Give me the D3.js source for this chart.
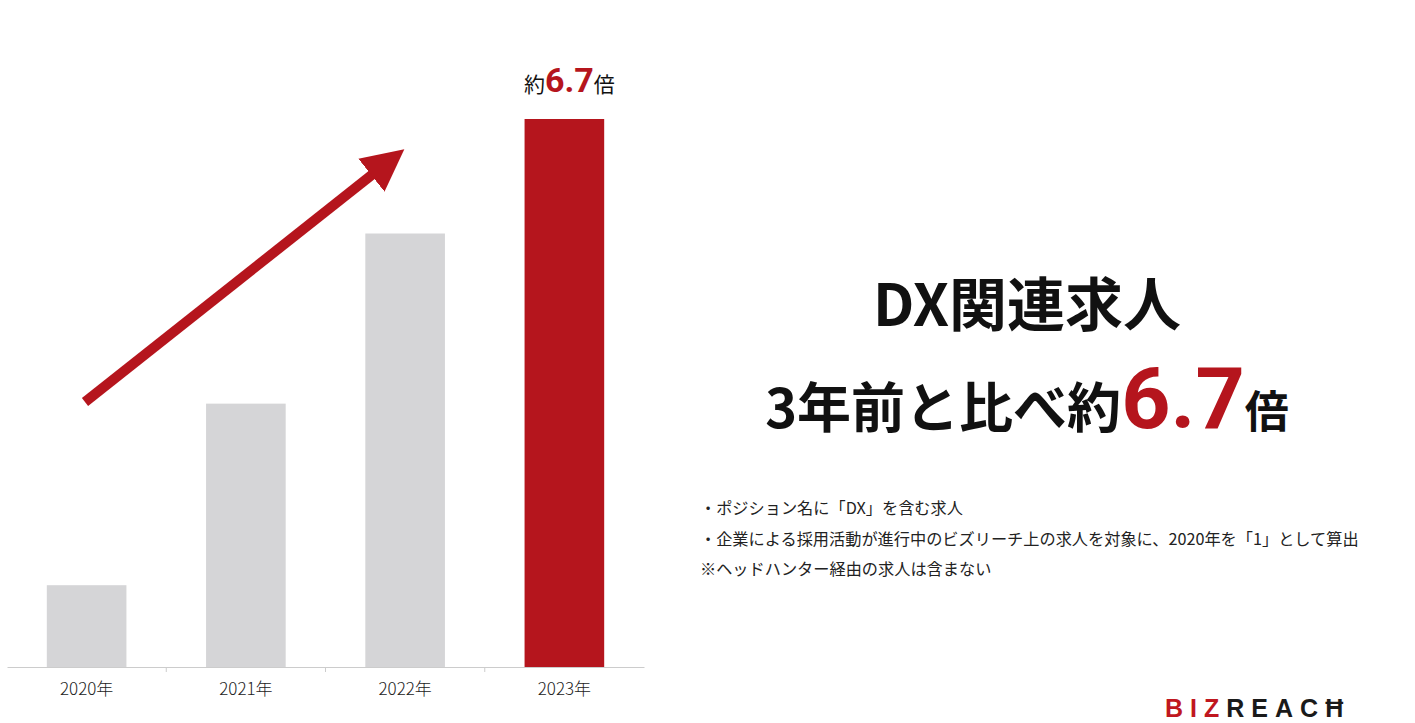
<!DOCTYPE html>
<html><head><meta charset="utf-8">
<script src="https://cdn.jsdelivr.net/npm/d3@7"></script>
<style>body{margin:0;background:#fff}svg{font-family:"Noto Sans CJK JP","Noto Sans",sans-serif}</style>
</head><body><svg id="c" width="1415" height="723"></svg>
<script>
const categories=["2020年","2021年","2022年","2023年"];
const values=[1,3.22,5.3,6.7];
const colors=["#d5d5d7","#d5d5d7","#d5d5d7","#b5151d"];
const notes=["・ポジション名に「DX」を含む求人","・企業による採用活動が進行中のビズリーチ上の求人を対象に、2020年を「1」として算出","※ヘッドハンター経由の求人は含まない"];

const svg=d3.select("#c");
const x=d3.scaleBand().domain(categories).range([7,644]).paddingInner(0.5).paddingOuter(0.25);
const y=d3.scaleLinear().domain([0,6.7]).range([667,119]);
svg.selectAll("rect.bar").data(values).join("rect").attr("class","bar")
 .attr("x",(d,i)=>x(categories[i])).attr("width",x.bandwidth())
 .attr("y",d=>y(d)).attr("height",d=>y(0)-y(d)).attr("fill",(d,i)=>colors[i]);
const ax=svg.append("g").attr("transform","translate(0,667)").call(d3.axisBottom(x).tickSize(0).tickPadding(16));
ax.select(".domain").attr("stroke","#ccc");
ax.selectAll("text").attr("font-size",17).attr("font-weight",300).attr("fill","#222").attr("font-family","Noto Sans CJK JP");
[1,2,3].forEach(i=>svg.append("line").attr("x1",x(categories[i])-x.step()*0.25).attr("x2",x(categories[i])-x.step()*0.25).attr("y1",667).attr("y2",672).attr("stroke","#ccc"));
const t=svg.append("text").attr("x",x(categories[3])+x.bandwidth()/2+5).attr("y",y(6.7)-27).attr("text-anchor","middle");
t.append("tspan").text("約").attr("font-size",21).attr("fill","#111");
t.append("tspan").text("6.7").attr("font-size",34).attr("font-weight","bold").attr("fill","#b5151d").attr("font-family","Roboto");
t.append("tspan").text("倍").attr("font-size",21).attr("fill","#111");
svg.append("defs").append("marker").attr("id","ah").attr("viewBox","0 0 10 10").attr("refX",2).attr("refY",5)
 .attr("markerWidth",4.2).attr("markerHeight",4.5).attr("orient","auto").append("path").attr("d","M0,0L10,5L0,10Z").attr("fill","#b5151d");
svg.append("line").attr("x1",85).attr("y1",402).attr("x2",378).attr("y2",170).attr("stroke","#b5151d").attr("stroke-width",10).attr("marker-end","url(#ah)");
svg.append("text").attr("x",1027).attr("y",326).attr("text-anchor","middle").attr("font-size",58).attr("font-weight","bold").attr("fill","#111").text("DX関連求人");
const h=svg.append("text").attr("x",1027).attr("y",428).attr("text-anchor","middle").attr("font-weight","bold").attr("fill","#111");
h.append("tspan").text("3年前と比べ約").attr("font-size",54);
h.append("tspan").text("6.7").attr("font-size",86).attr("fill","#b5151d").attr("font-family","Roboto");
h.append("tspan").text("倍").attr("font-size",44);
svg.selectAll("text.note").data(notes).join("text").attr("class","note").attr("x",700).attr("y",(d,i)=>[514,545,575][i])
 .attr("font-size",16.2).attr("fill","#222").text(d=>d);
const lg=svg.append("text").attr("x",1165).attr("y",717).attr("font-size",25).attr("font-weight","bold").attr("font-family","Liberation Sans").attr("letter-spacing",7);
lg.append("tspan").text("BIZ").attr("fill","#c0171f");
lg.append("tspan").text("REAC").attr("fill","#1a1a1a");
lg.append("tspan").text("Ħ").attr("fill","#1a1a1a");
</script></body></html>
